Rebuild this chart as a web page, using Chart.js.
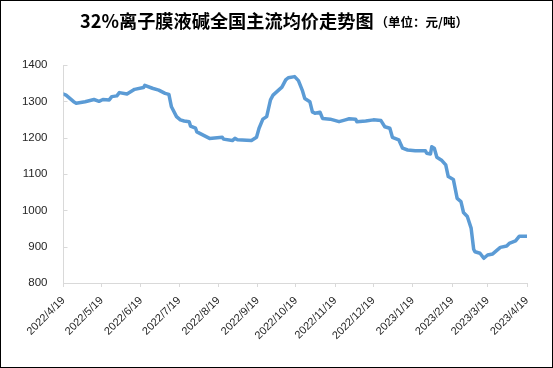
<!DOCTYPE html>
<html>
<head>
<meta charset="utf-8">
<script src="https://cdn.jsdelivr.net/npm/chart.js@4/dist/chart.umd.min.js"></script>
<style>
  html, body { margin: 0; padding: 0; background: #fff; }
  #wrap { width: 553px; height: 368px; box-sizing: border-box; border: 1px solid #000; background: #fff; }
  canvas { display: block; }
</style>
</head>
<body>
<div id="wrap"><canvas id="c" width="551" height="366"></canvas></div>
<script>
// ---- data ----
const titleMain = '32%离子膜液碱全国主流均价走势图';
const titleUnit = '（单位：元/吨）';
const startDate = '2022/4/19';
const tickLabels = ['2022/4/19','2022/5/19','2022/6/19','2022/7/19','2022/8/19','2022/9/19','2022/10/19','2022/11/19','2022/12/19','2023/1/19','2023/2/19','2023/3/19','2023/4/19'];
const yTicks = [800, 900, 1000, 1100, 1200, 1300, 1400];
const dates = [
  '2022/4/19','2022/4/21','2022/4/27','2022/4/29','2022/5/6','2022/5/13','2022/5/17','2022/5/20','2022/5/25','2022/5/27',
  '2022/5/31','2022/6/2','2022/6/8','2022/6/14','2022/6/21','2022/6/22','2022/6/28','2022/7/3','2022/7/8','2022/7/11',
  '2022/7/13','2022/7/17','2022/7/20','2022/7/23','2022/7/27','2022/7/28','2022/8/1','2022/8/2','2022/8/7','2022/8/12',
  '2022/8/22','2022/8/23','2022/8/30','2022/9/1','2022/9/3','2022/9/14','2022/9/18','2022/9/20','2022/9/23','2022/9/26',
  '2022/9/29','2022/10/1','2022/10/8','2022/10/11','2022/10/13','2022/10/18','2022/10/21','2022/10/24','2022/10/26','2022/10/30',
  '2022/11/1','2022/11/3','2022/11/7','2022/11/9','2022/11/15','2022/11/22','2022/11/27','2022/11/30','2022/12/5','2022/12/6',
  '2022/12/13','2022/12/19','2022/12/25','2022/12/28','2023/1/1','2023/1/3','2023/1/8','2023/1/11','2023/1/15','2023/1/21',
  '2023/1/29','2023/1/30','2023/2/2','2023/2/3','2023/2/5','2023/2/7','2023/2/11','2023/2/14','2023/2/16','2023/2/20',
  '2023/2/23','2023/2/26','2023/2/28','2023/3/3','2023/3/6','2023/3/8','2023/3/9','2023/3/13','2023/3/16','2023/3/19',
  '2023/3/23','2023/3/29','2023/4/3','2023/4/5','2023/4/10','2023/4/13','2023/4/19'
];
const prices = [
  1320,1317,1299,1295,1299,1305,1300,1305,1304,1313,
  1315,1324,1320,1333,1338,1344,1336,1331,1322,1319,
  1285,1258,1249,1246,1244,1232,1226,1216,1207,1198,
  1201,1196,1192,1198,1194,1192,1201,1226,1251,1258,
  1304,1317,1339,1359,1365,1368,1357,1331,1308,1299,
  1271,1267,1270,1253,1251,1244,1249,1252,1251,1244,
  1246,1249,1247,1230,1226,1201,1194,1171,1166,1164,
  1164,1157,1155,1175,1171,1146,1137,1125,1093,1085,
  1033,1024,994,983,951,893,886,882,868,877,
  880,898,902,909,916,929,929
];

// ---- helpers ----
function dayIndex(s) {
  const p = s.split('/').map(Number);
  const q = startDate.split('/').map(Number);
  return Math.round((Date.UTC(p[0], p[1]-1, p[2]) - Date.UTC(q[0], q[1]-1, q[2])) / 86400000);
}
const points = dates.map((d, i) => ({ x: dayIndex(d), y: prices[i] }));
const tickDays = tickLabels.map(dayIndex);

const AXIS_COLOR = '#d9d9d9';
const LABEL_COLOR = '#262626';

const titlePlugin = {
  id: 'titlePlugin',
  afterDraw(chart) {
    const ctx = chart.ctx;
    ctx.save();
    ctx.fillStyle = '#000';
    ctx.textBaseline = 'alphabetic';
    const f1 = 'bold 18.2px "Noto Sans CJK SC", sans-serif';
    const f2 = 'bold 12.5px "Noto Sans CJK SC", sans-serif';
    ctx.font = f1; const w1 = ctx.measureText(titleMain).width;
    const x0 = 79;
    ctx.font = f1; ctx.fillText(titleMain, x0, 27);
    ctx.font = f2; ctx.fillText(titleUnit, x0 + w1 + 2, 26);
    ctx.restore();
  }
};

const innerTicksPlugin = {
  id: 'innerTicks',
  afterDatasetsDraw(chart) {
    const ys = chart.scales.y;
    const ctx = chart.ctx;
    ctx.save();
    ctx.strokeStyle = AXIS_COLOR;
    ctx.lineWidth = 1;
    ys.ticks.forEach(t => {
      const py = Math.round(ys.getPixelForValue(t.value)) + 0.5;
      ctx.beginPath();
      ctx.moveTo(chart.chartArea.left, py);
      ctx.lineTo(chart.chartArea.left + 4, py);
      ctx.stroke();
    });
    ctx.restore();
  }
};

new Chart(document.getElementById('c'), {
  type: 'line',
  data: {
    datasets: [{
      data: points,
      borderColor: '#5b9bd5',
      borderWidth: 3.5,
      pointRadius: 0,
      tension: 0,
      fill: false,
      borderJoinStyle: 'round',
      borderCapStyle: 'round'
    }]
  },
  options: {
    responsive: false,
    animation: false,
    devicePixelRatio: 1,
    layout: { padding: { left: 0, right: 25, top: 64, bottom: 0 } },
    plugins: { legend: { display: false }, title: { display: false }, tooltip: { enabled: false } },
    scales: {
      x: {
        type: 'linear',
        min: 0,
        max: tickDays[tickDays.length - 1],
        afterBuildTicks(scale) { scale.ticks = tickDays.map(v => ({ value: v })); },
        afterFit(scale) { scale.height = 84; },
        grid: { display: true, drawOnChartArea: false, drawTicks: true, tickLength: 4, color: AXIS_COLOR },
        border: { display: true, color: AXIS_COLOR, width: 1 },
        ticks: {
          autoSkip: false,
          minRotation: 45,
          maxRotation: 45,
          padding: 7,
          color: LABEL_COLOR,
          font: { family: '"Liberation Sans", Arial, sans-serif', size: 11 },
          callback: (v, i) => tickLabels[i]
        }
      },
      y: {
        min: yTicks[0],
        max: yTicks[yTicks.length - 1],
        afterBuildTicks(scale) { scale.ticks = yTicks.map(v => ({ value: v })); },
        afterFit(scale) { scale.width = 62.5; },
        grid: { display: false },
        border: { display: true, color: AXIS_COLOR, width: 1 },
        ticks: {
          padding: 8,
          color: LABEL_COLOR,
          font: { family: '"Liberation Sans", Arial, sans-serif', size: 11.5 },
          callback: v => String(v)
        }
      }
    }
  },
  plugins: [innerTicksPlugin, titlePlugin]
});
</script>
</body>
</html>
